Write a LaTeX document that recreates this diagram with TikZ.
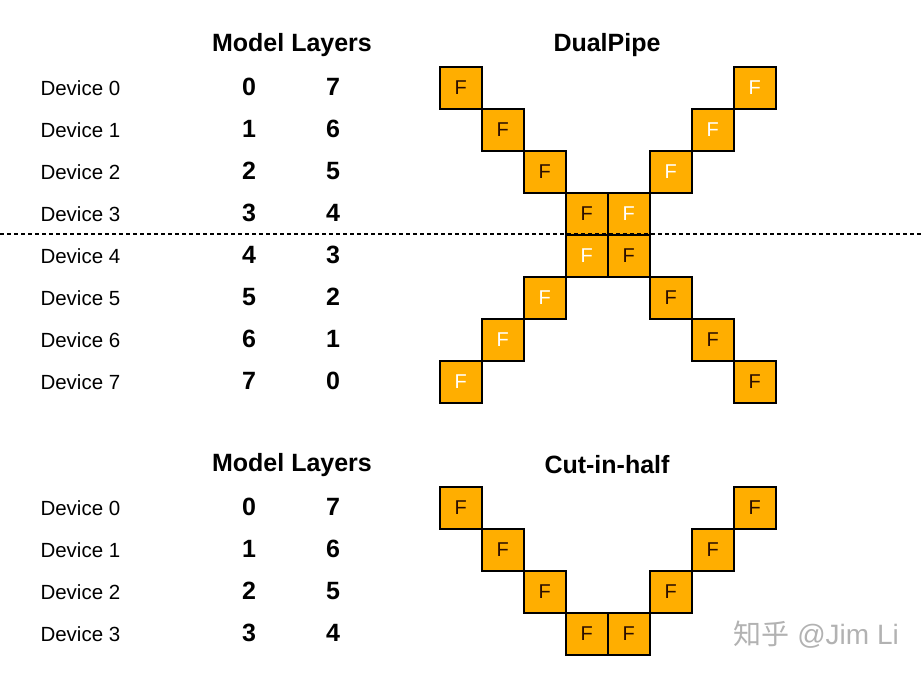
\documentclass[tikz,border=0pt]{standalone}
\usepackage{fontspec}
\setmainfont{Liberation Sans}
\newfontfamily\cjk{Noto Sans CJK SC}
\definecolor{boxor}{HTML}{FFAE00}
\definecolor{darkf}{HTML}{2A0E00}
\begin{document}
\begin{tikzpicture}[x=1pt,y=-1pt,
  fbox/.style={draw=black,line width=1.6pt,fill=boxor,minimum size=42pt,inner sep=0pt,anchor=north west,font=\fontsize{20}{20}\selectfont},
  dk/.style={text=darkf}, wt/.style={text=white},
  dev/.style={anchor=west,font=\fontsize{20.5}{20}\selectfont},
  num/.style={font=\bfseries\fontsize{25}{25}\selectfont},
  ttl/.style={font=\bfseries\fontsize{25}{25}\selectfont}]
\useasboundingbox (0,0) rectangle (924,674);
\node[ttl] (t1) at (292,45) {Model Layers};
\node[ttl] (t2) at (607,45) {DualPipe};
\node[ttl] (t3) at (292,465) {Model Layers};
\node[ttl] (t4) at (607,465) {Cut-in-half};
\foreach \r in {0,...,7}{
  \pgfmathtruncatemacro\rr{7-\r}
  \node[dev] (d\r) at (37,{88+42*\r}) {Device \r};
  \node[num] (a\r) at (249,{87+42*\r}) {\r};
  \node[num] (b\r) at (333,{87+42*\r}) {\rr};
}
\foreach \r in {0,...,3}{
  \pgfmathtruncatemacro\rr{7-\r}
  \node[dev] (e\r) at (37,{508+42*\r}) {Device \r};
  \node[num] (c\r) at (249,{507+42*\r}) {\r};
  \node[num] (g\r) at (333,{507+42*\r}) {\rr};
  \node[fbox,dk] (vl\r) at ({439+42*\r},{486+42*\r}) {F};
  \node[fbox,dk] (vr\r) at ({439+42*\rr},{486+42*\r}) {F};
  \node[fbox,dk] (xl\r) at ({439+42*\r},{66+42*\r}) {F};
  \node[fbox,wt] (xr\r) at ({439+42*\rr},{66+42*\r}) {F};
}
\foreach \r in {4,...,7}{
  \pgfmathtruncatemacro\rr{7-\r}
  \node[fbox,wt] (yl\r) at ({439+42*\rr},{66+42*\r}) {F};
  \node[fbox,dk] (yr\r) at ({439+42*\r},{66+42*\r}) {F};
}
\coordinate (L) at (0,234);
\coordinate (R) at (924,234);
\draw[dashed,line width=1.2pt,dash pattern=on 4pt off 3pt] (L) -- (R);
\node[anchor=west,text=black!30,font=\fontsize{28}{28}\selectfont] (wm) at (730,635) {{\cjk 知乎} @Jim Li};
\end{tikzpicture}
\end{document}
